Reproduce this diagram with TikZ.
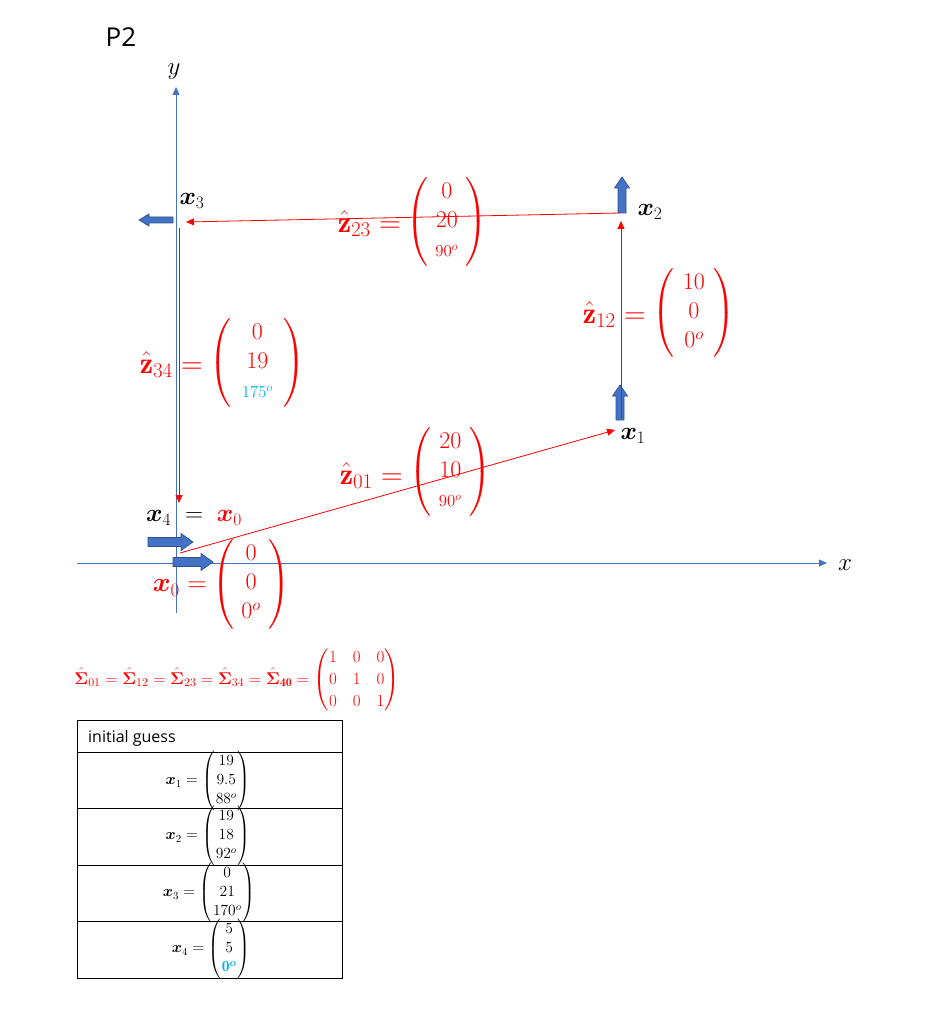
\RequirePackage{fix-cm}
\documentclass[tikz,border=0pt]{standalone}
\usepackage{amsmath}
\usepackage{fontspec}
\newfontfamily\uisans{Open Sans}
\usetikzlibrary{arrows.meta}
\definecolor{axblue}{HTML}{4472C4}
\definecolor{arrfill}{HTML}{4472C4}
\definecolor{arrdraw}{HTML}{2F528F}
\definecolor{zcyan}{HTML}{00B0F0}
\definecolor{zred}{HTML}{FF0000}
\newcommand\pvec[2]{\left(\hspace{#2}\begin{matrix}#1\end{matrix}\hspace{#2}\right)}
% block arrow: x, y, rotation, length, shaft half-width, head half-width, head length
\newcommand\blockarrow[7]{%
  \begin{scope}[shift={(#1,#2)},rotate=#3]
    \filldraw[arrowbody] ({-#4/2},{-#5}) -- ({#4/2-#7},{-#5}) -- ({#4/2-#7},{-#6})
      -- ({#4/2},0) -- ({#4/2-#7},{#6}) -- ({#4/2-#7},{#5}) -- ({-#4/2},{#5}) -- cycle;
  \end{scope}}
\tikzset{
  axis/.style={draw=axblue, line width=0.8pt, -{Triangle[length=8pt,width=7pt]}},
  redarrow/.style={draw=zred, line width=0.8pt, -{Triangle[length=8pt,width=7pt]}},
  arrowbody/.style={fill=arrfill, draw=arrdraw, line width=0.7pt, line join=miter},
  bigmath/.style={inner sep=0pt, text=zred, anchor=west, font=\fontsize{24}{29}\selectfont},
  zlabel/.style={inner sep=0pt, text=zred, anchor=east, font=\fontsize{30}{32}\selectfont},
  lblmath/.style={inner sep=0pt, font=\fontsize{25}{28}\selectfont},
  tabmath/.style={inner sep=0pt, font=\fontsize{15.5}{19}\selectfont},
  cell/.style={draw=black, line width=0.7pt, minimum width=265pt, inner sep=0pt},
}
\begin{document}
\begin{tikzpicture}[x=1pt,y=-1pt]
\useasboundingbox (0,0) rectangle (937,1024);

% title
\node[inner sep=0pt, font=\uisans\fontsize{26}{30}\selectfont] (title) at (121,37) {P2};

% axes
\coordinate (xs) at (77,563);
\coordinate (xe) at (827,563);
\coordinate (ys) at (176,613);
\coordinate (ye) at (176,87);
\draw[axis] (xs) -- (xe);
\draw[axis] (ys) -- (ye);
\node[lblmath] (xlab) at (845,565) {$x$};
\node[lblmath] (ylab) at (174,72) {$y$};

% pose block arrows
\blockarrow{156}{220}{180}{34}{3}{6}{10}
\blockarrow{622}{195}{90}{36}{4}{7.5}{11}
\blockarrow{620}{402.5}{90}{35}{4}{7.5}{11}
\blockarrow{170.5}{542}{0}{45}{4.5}{8.5}{12}
\blockarrow{193}{562}{0}{40}{4.5}{8.5}{12}

% pose labels
\node[lblmath] (x3lab) at (192,201) {$\boldsymbol{x}_3$};
\node[lblmath] (x2lab) at (650,212) {$\boldsymbol{x}_2$};
\node[lblmath] (x1lab) at (633,436) {$\boldsymbol{x}_1$};
\node[lblmath] (x4lab) at (194,518) {$\boldsymbol{x}_4 \;=\; {\color{zred}\boldsymbol{x}_0}$};

% edge connectors
\coordinate (c0) at (180,553);
\coordinate (c1) at (615,430);
\coordinate (c1b) at (621,418);
\coordinate (c2) at (621,221);
\coordinate (c2b) at (620,213);
\coordinate (c3) at (186,222);
\coordinate (c3b) at (179,228);
\coordinate (c4) at (179,503);
\draw[redarrow] (c0) -- (c1);
\draw[redarrow] (c1b) -- (c2);
\draw[redarrow] (c2b) -- (c3);
\draw[redarrow] (c3b) -- (c4);

% measurement labels
\node[zlabel] (z23l) at (401,224) {$\hat{\mathbf{z}}_{23} =$};
\node[bigmath] (z23) at (406,222) {$\pvec{0\\20\\ \scriptstyle 90^{o}}{7.5pt}$};
\node[zlabel] (z12l) at (646,315) {$\hat{\mathbf{z}}_{12} =$};
\node[bigmath] (z12) at (652,313) {$\pvec{10\\0\\0^{o}}{9pt}$};
\node[zlabel] (z34l) at (203,365) {$\hat{\mathbf{z}}_{34} =$};
\node[bigmath] (z34) at (209,363) {$\pvec{0\\19\\ \scriptstyle{\color{zcyan}175^{o}}}{11pt}$};
\node[zlabel] (z01l) at (403,476) {$\hat{\mathbf{z}}_{01} =$};
\node[bigmath] (z01) at (409,472) {$\pvec{20\\10\\ \scriptstyle 90^{o}}{8pt}$};
\node[zlabel, font=\fontsize{27}{30}\selectfont] (x0l) at (207,588) {$\boldsymbol{x}_0 =$};
\node[bigmath] (x0eq) at (212,584) {$\pvec{0\\0\\0^{o}}{7.5pt}$};

% covariance
\node[inner sep=0pt, text=zred, font=\fontsize{17}{22}\selectfont] (sig) at (237,680)
  {$\hat{\boldsymbol{\Sigma}}_{01} = \hat{\boldsymbol{\Sigma}}_{12} = \hat{\boldsymbol{\Sigma}}_{23} = \hat{\boldsymbol{\Sigma}}_{34} = \hat{\boldsymbol{\Sigma}}_{\mathbf{40}} =
   \setlength{\arraycolsep}{8pt}\begin{pmatrix}1&0&0\\0&1&0\\0&0&1\end{pmatrix}$};

% initial guess table
\node[cell, minimum height=32pt] (th) at (209.5,736) {};
\node[cell, minimum height=56pt] (t1) at (209.5,780) {};
\node[cell, minimum height=57pt] (t2) at (209.5,836.5) {};
\node[cell, minimum height=56pt] (t3) at (209.5,893) {};
\node[cell, minimum height=57pt] (t4) at (209.5,949.5) {};
\node[inner sep=0pt, anchor=west, font=\uisans\fontsize{16}{19}\selectfont] (thtext) at (88,738) {initial guess};
\node[tabmath] (g1) at (208,781)
  {$\boldsymbol{x}_1 = \pvec{19\\9.5\\88^{o}}{1pt}$};
\node[tabmath] (g2) at (208,836)
  {$\boldsymbol{x}_2 = \pvec{19\\18\\92^{o}}{1pt}$};
\node[tabmath] (g3) at (209,893)
  {$\boldsymbol{x}_3 = \pvec{0\\21\\170^{o}}{1pt}$};
\node[tabmath] (g4) at (211,949)
  {$\boldsymbol{x}_4 = \pvec{5\\5\\{\color{zcyan}\mathbf{0}^{\boldsymbol{o}}}}{1pt}$};
\end{tikzpicture}
\end{document}
